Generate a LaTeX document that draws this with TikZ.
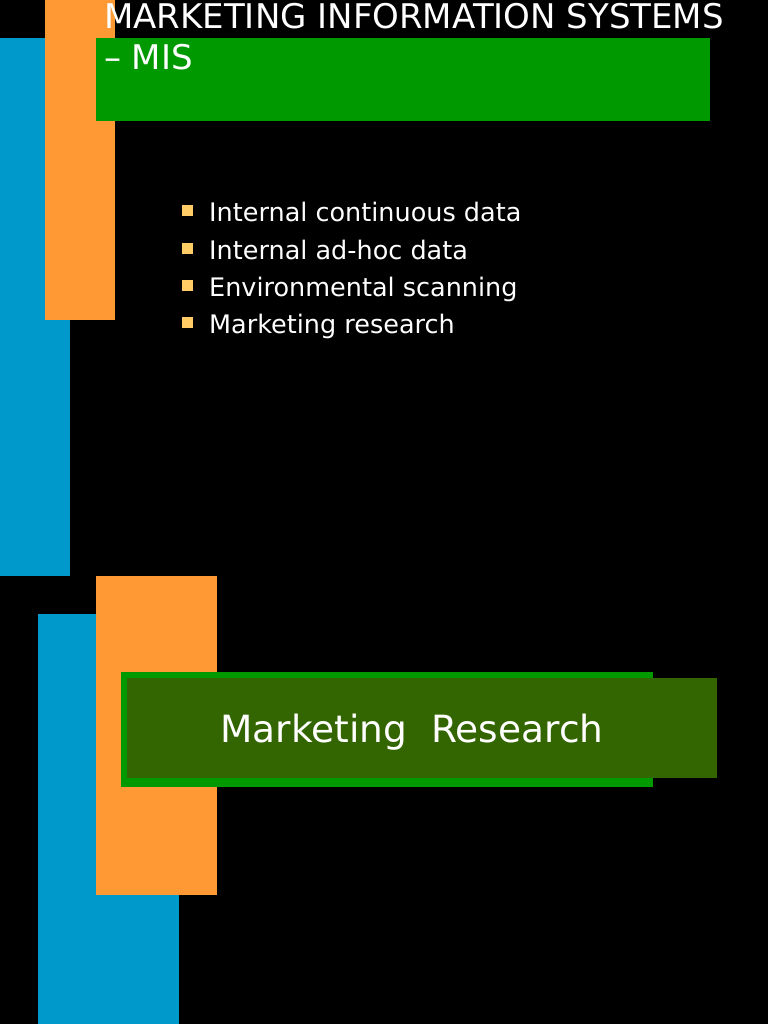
\documentclass[tikz,border=0pt]{standalone}
\usepackage{fontspec}
\setmainfont{DejaVu Sans}
\definecolor{bl}{HTML}{0099CC}
\definecolor{or}{HTML}{FF9933}
\definecolor{gr}{HTML}{009900}
\definecolor{dg}{HTML}{336600}
\definecolor{bu}{HTML}{FFCC66}
\begin{document}
\begin{tikzpicture}[x=1pt,y=-1pt,
  bul/.style={anchor=base west,text=white,font=\fontsize{25.5}{28}\selectfont,inner sep=0pt},
  sq/.style={fill=bu,minimum size=11pt,inner sep=0pt}]
\fill[black] (0,0) rectangle (768,1024);
\useasboundingbox (0,0) rectangle (768,1024);
\fill[bl] (0,38) rectangle (70,576);
\fill[or] (45,0) rectangle (115,320);
\fill[gr] (96,38) rectangle (710,121);
\node[anchor=base west,text=white,align=left,inner sep=0pt,font=\fontsize{34}{41}\selectfont] (title) at (104,70) {MARKETING INFORMATION SYSTEMS\\– MIS};
\foreach \t [count=\i] in {Internal continuous data,Internal ad-hoc data,Environmental scanning,Marketing research}{
  \node[sq] (s\i) at (187,{211+37*(\i-1)}) {};
  \node[bul] (b\i) at (209,{222+37*(\i-1)}) {\t};
}
\fill[bl] (38,614) rectangle (179,1024);
\fill[or] (96,576) rectangle (217,895);
\fill[gr] (121,672) rectangle (653,787);
\fill[dg] (127,678) rectangle (717,778);
\node[text=white,font=\fontsize{37.5}{40}\selectfont,inner sep=0pt] (mr) at (412,732) {Marketing\ \ Research};
\end{tikzpicture}
\end{document}
